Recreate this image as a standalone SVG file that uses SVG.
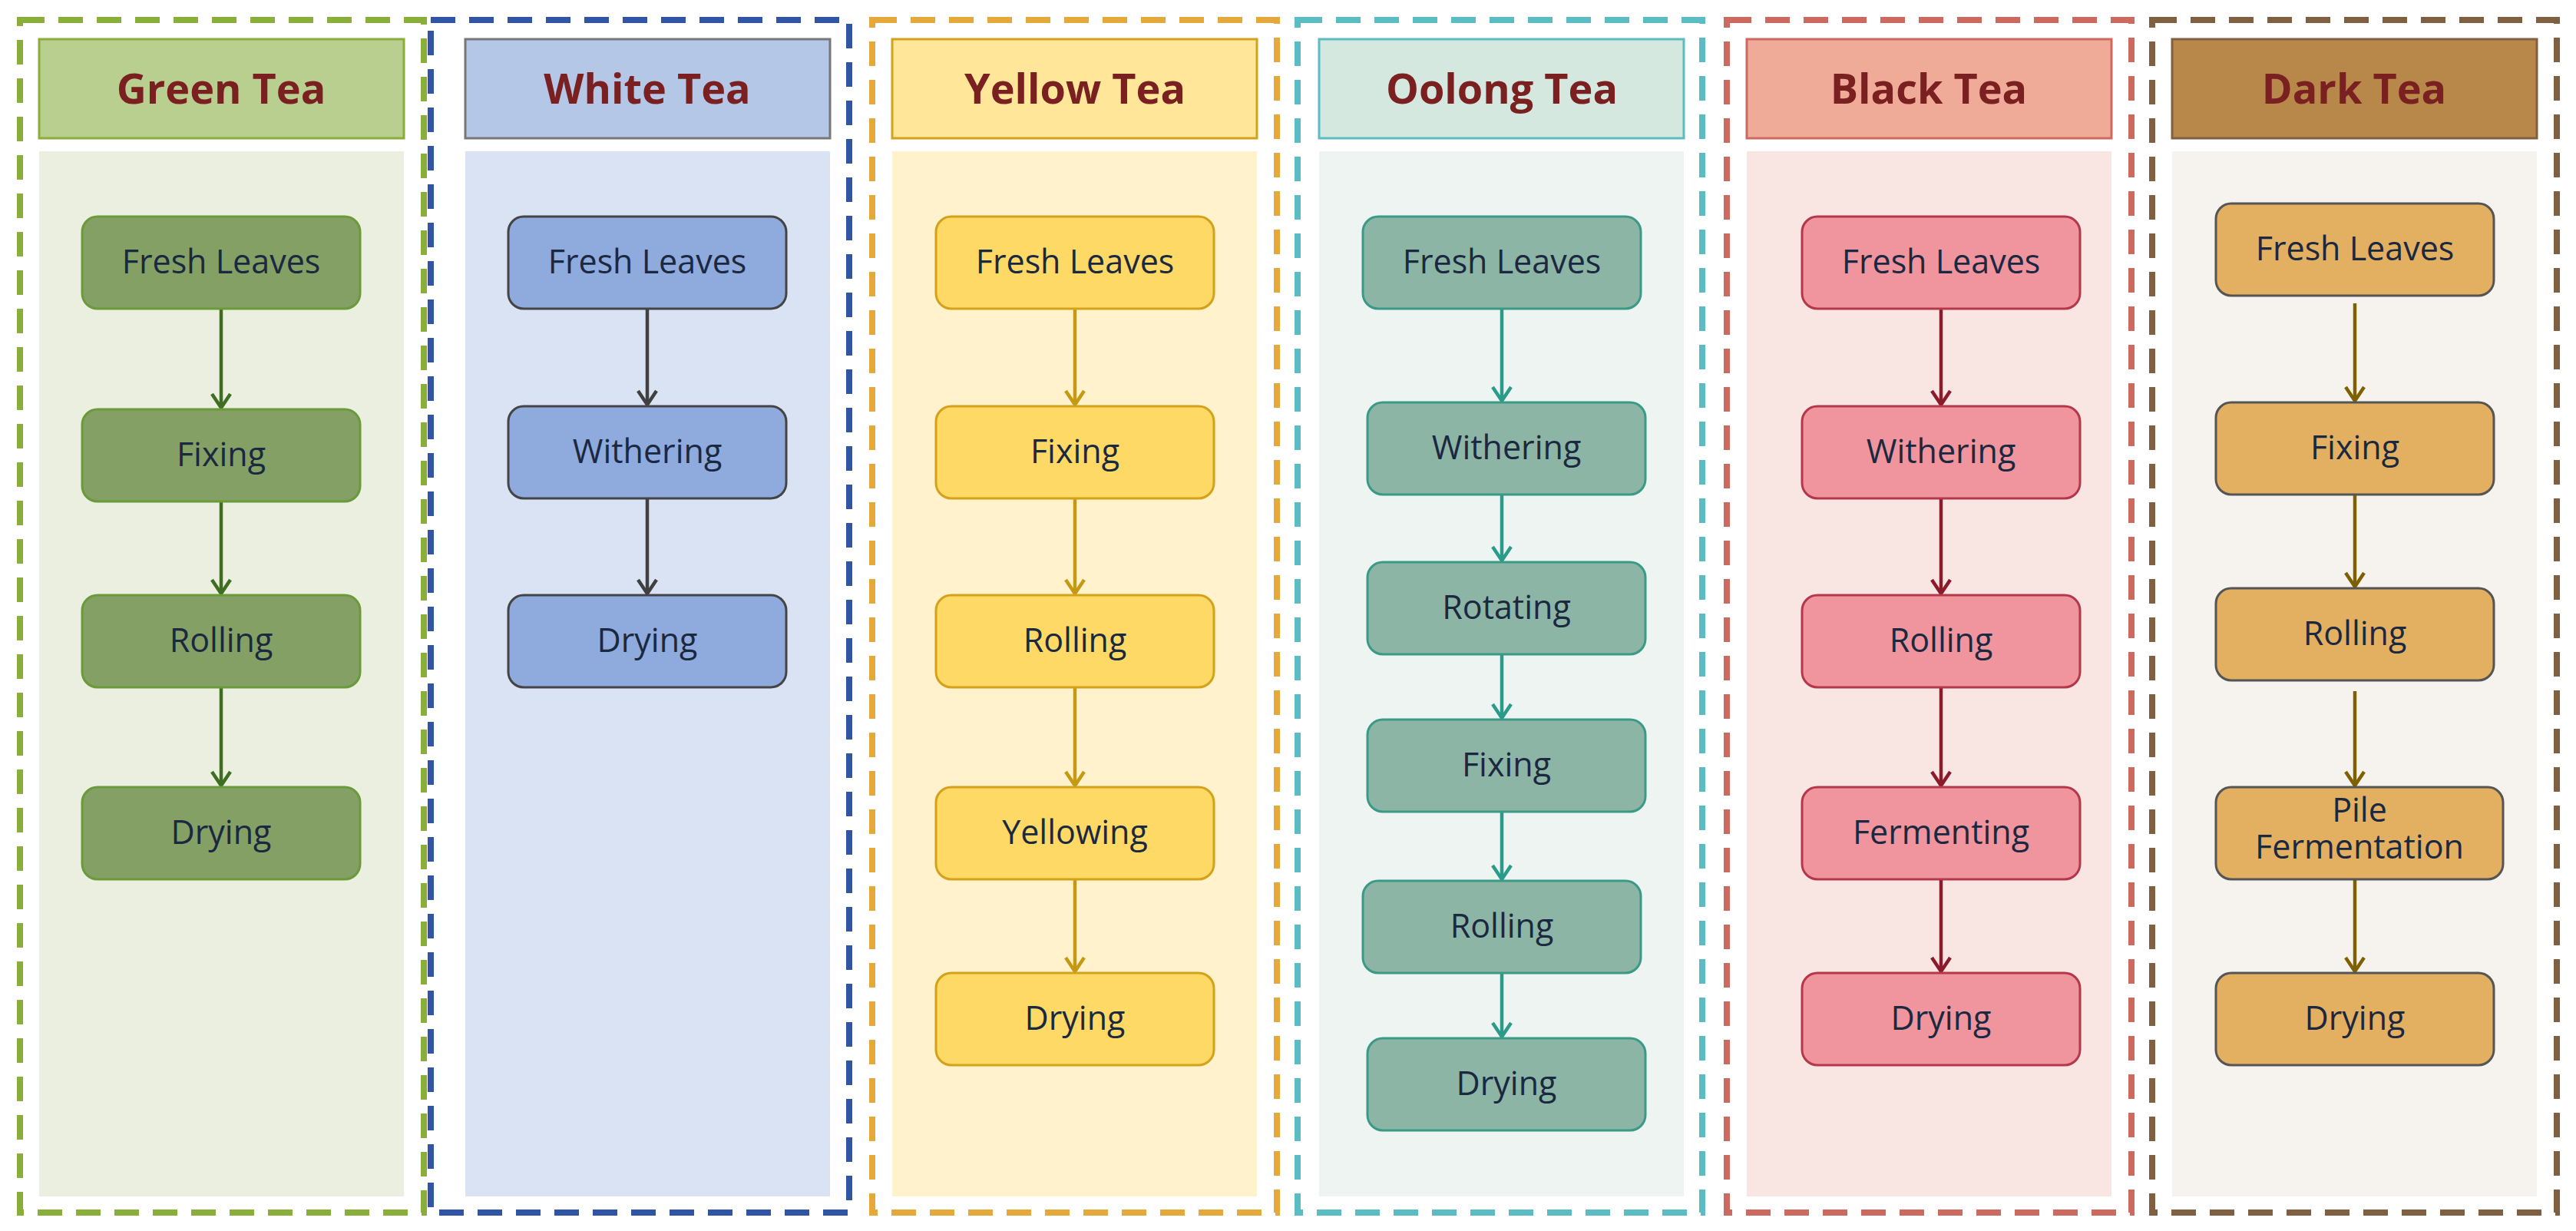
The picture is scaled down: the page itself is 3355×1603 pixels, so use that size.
<svg xmlns="http://www.w3.org/2000/svg" width="3355" height="1603" viewBox="0 0 3355 1603">
<style>
.outer{fill:none;stroke-width:8;stroke-dasharray:32 18}
.title{font-family:"Open Sans","Noto Sans",sans-serif;font-weight:bold;font-size:54px;fill:#7a2020;text-anchor:middle}
.lbl{font-family:"Open Sans","Noto Sans",sans-serif;font-size:43px;fill:#1a2840;text-anchor:middle}
.n{stroke-width:3}
.a{stroke-width:4.5;fill:none}
</style>
<rect width="3355" height="1603" fill="#fff"/>
<g id="green">
<rect class="outer" x="26" y="26" width="526" height="1553" stroke="#8aae3a"/>
<rect x="51" y="51" width="475" height="129" fill="#b9cf8f" stroke="#8aae3a" stroke-width="3"/>
<text class="title" x="288" y="135">Green Tea</text>
<rect x="51" y="197" width="475" height="1361" fill="#ebefdf"/>
</g>
<g id="white">
<rect class="outer" x="561" y="26" width="545" height="1553" stroke="#2f55a4"/>
<rect x="606" y="51" width="475" height="129" fill="#b4c7e7" stroke="#777" stroke-width="3"/>
<text class="title" x="843" y="135">White Tea</text>
<rect x="606" y="197" width="475" height="1361" fill="#dae3f3"/>
</g>
<g id="yellow">
<rect class="outer" x="1136" y="26" width="527" height="1553" stroke="#e5a83a"/>
<rect x="1162" y="51" width="475" height="129" fill="#ffe699" stroke="#d4a21a" stroke-width="3"/>
<text class="title" x="1400" y="135">Yellow Tea</text>
<rect x="1162" y="197" width="475" height="1361" fill="#fff2cc"/>
</g>
<g id="oolong">
<rect class="outer" x="1690" y="26" width="527" height="1553" stroke="#5bbcc4"/>
<rect x="1718" y="51" width="475" height="129" fill="#d4e8e0" stroke="#5bbcc4" stroke-width="3"/>
<text class="title" x="1956" y="135">Oolong Tea</text>
<rect x="1718" y="197" width="475" height="1361" fill="#eef4f1"/>
</g>
<g id="black">
<rect class="outer" x="2249" y="26" width="527" height="1553" stroke="#cc6a60"/>
<rect x="2275" y="51" width="475" height="129" fill="#f0aa98" stroke="#cc6a60" stroke-width="3"/>
<text class="title" x="2512" y="135">Black Tea</text>
<rect x="2275" y="197" width="475" height="1361" fill="#f9e6e2"/>
</g>
<g id="dark">
<rect class="outer" x="2803" y="26" width="527" height="1553" stroke="#806040"/>
<rect x="2829" y="51" width="475" height="129" fill="#b8884a" stroke="#806040" stroke-width="3"/>
<text class="title" x="3066" y="135">Dark Tea</text>
<rect x="2829" y="197" width="475" height="1361" fill="#f6f2ee"/>
</g>
<g id="connectors">
<g stroke="#3f6d22" class="a">
<line x1="288" y1="402" x2="288" y2="531"/><polyline points="276,513 288,531 300,513"/>
<line x1="288" y1="653" x2="288" y2="773"/><polyline points="276,755 288,773 300,755"/>
<line x1="288" y1="895" x2="288" y2="1023"/><polyline points="276,1005 288,1023 300,1005"/>
</g>
<g stroke="#404040" class="a">
<line x1="843" y1="402" x2="843" y2="527"/><polyline points="831,509 843,527 855,509"/>
<line x1="843" y1="649" x2="843" y2="773"/><polyline points="831,755 843,773 855,755"/>
</g>
<g stroke="#c59a12" class="a">
<line x1="1400" y1="402" x2="1400" y2="527"/><polyline points="1388,509 1400,527 1412,509"/>
<line x1="1400" y1="649" x2="1400" y2="773"/><polyline points="1388,755 1400,773 1412,755"/>
<line x1="1400" y1="895" x2="1400" y2="1023"/><polyline points="1388,1005 1400,1023 1412,1005"/>
<line x1="1400" y1="1145" x2="1400" y2="1265"/><polyline points="1388,1247 1400,1265 1412,1247"/>
</g>
<g stroke="#2a9a8a" class="a">
<line x1="1956" y1="402" x2="1956" y2="522"/><polyline points="1944,504 1956,522 1968,504"/>
<line x1="1956" y1="644" x2="1956" y2="730"/><polyline points="1944,712 1956,730 1968,712"/>
<line x1="1956" y1="852" x2="1956" y2="935"/><polyline points="1944,917 1956,935 1968,917"/>
<line x1="1956" y1="1057" x2="1956" y2="1145"/><polyline points="1944,1127 1956,1145 1968,1127"/>
<line x1="1956" y1="1267" x2="1956" y2="1350"/><polyline points="1944,1332 1956,1350 1968,1332"/>
</g>
<g stroke="#8b1a2a" class="a">
<line x1="2528" y1="402" x2="2528" y2="527"/><polyline points="2516,509 2528,527 2540,509"/>
<line x1="2528" y1="649" x2="2528" y2="773"/><polyline points="2516,755 2528,773 2540,755"/>
<line x1="2528" y1="895" x2="2528" y2="1023"/><polyline points="2516,1005 2528,1023 2540,1005"/>
<line x1="2528" y1="1145" x2="2528" y2="1265"/><polyline points="2516,1247 2528,1265 2540,1247"/>
</g>
<g stroke="#7f6000" class="a">
<line x1="3067" y1="395" x2="3067" y2="522"/><polyline points="3055,504 3067,522 3079,504"/>
<line x1="3067" y1="644" x2="3067" y2="764"/><polyline points="3055,746 3067,764 3079,746"/>
<line x1="3067" y1="900" x2="3067" y2="1023"/><polyline points="3055,1005 3067,1023 3079,1005"/>
<line x1="3067" y1="1145" x2="3067" y2="1265"/><polyline points="3055,1247 3067,1265 3079,1247"/>
</g>
</g>
<g id="g1"><rect class="n" x="107" y="282" width="362" height="120" rx="20" fill="#84a065" stroke="#6a9a3a"/><text class="lbl" x="288" y="356">Fresh Leaves</text></g>
<g id="g2"><rect class="n" x="107" y="533" width="362" height="120" rx="20" fill="#84a065" stroke="#6a9a3a"/><text class="lbl" x="288" y="607">Fixing</text></g>
<g id="g3"><rect class="n" x="107" y="775" width="362" height="120" rx="20" fill="#84a065" stroke="#6a9a3a"/><text class="lbl" x="288" y="849">Rolling</text></g>
<g id="g4"><rect class="n" x="107" y="1025" width="362" height="120" rx="20" fill="#84a065" stroke="#6a9a3a"/><text class="lbl" x="288" y="1099">Drying</text></g>
<g id="w1"><rect class="n" x="662" y="282" width="362" height="120" rx="20" fill="#8faadc" stroke="#444"/><text class="lbl" x="843" y="356">Fresh Leaves</text></g>
<g id="w2"><rect class="n" x="662" y="529" width="362" height="120" rx="20" fill="#8faadc" stroke="#444"/><text class="lbl" x="843" y="603">Withering</text></g>
<g id="w3"><rect class="n" x="662" y="775" width="362" height="120" rx="20" fill="#8faadc" stroke="#444"/><text class="lbl" x="843" y="849">Drying</text></g>
<g id="y1"><rect class="n" x="1219" y="282" width="362" height="120" rx="20" fill="#ffd966" stroke="#d4a21a"/><text class="lbl" x="1400" y="356">Fresh Leaves</text></g>
<g id="y2"><rect class="n" x="1219" y="529" width="362" height="120" rx="20" fill="#ffd966" stroke="#d4a21a"/><text class="lbl" x="1400" y="603">Fixing</text></g>
<g id="y3"><rect class="n" x="1219" y="775" width="362" height="120" rx="20" fill="#ffd966" stroke="#d4a21a"/><text class="lbl" x="1400" y="849">Rolling</text></g>
<g id="y4"><rect class="n" x="1219" y="1025" width="362" height="120" rx="20" fill="#ffd966" stroke="#d4a21a"/><text class="lbl" x="1400" y="1099">Yellowing</text></g>
<g id="y5"><rect class="n" x="1219" y="1267" width="362" height="120" rx="20" fill="#ffd966" stroke="#d4a21a"/><text class="lbl" x="1400" y="1341">Drying</text></g>
<g id="o1"><rect class="n" x="1775" y="282" width="362" height="120" rx="20" fill="#8db5a5" stroke="#3a9a86"/><text class="lbl" x="1956" y="356">Fresh Leaves</text></g>
<g id="o2"><rect class="n" x="1781" y="524" width="362" height="120" rx="20" fill="#8db5a5" stroke="#3a9a86"/><text class="lbl" x="1962" y="598">Withering</text></g>
<g id="o3"><rect class="n" x="1781" y="732" width="362" height="120" rx="20" fill="#8db5a5" stroke="#3a9a86"/><text class="lbl" x="1962" y="806">Rotating</text></g>
<g id="o4"><rect class="n" x="1781" y="937" width="362" height="120" rx="20" fill="#8db5a5" stroke="#3a9a86"/><text class="lbl" x="1962" y="1011">Fixing</text></g>
<g id="o5"><rect class="n" x="1775" y="1147" width="362" height="120" rx="20" fill="#8db5a5" stroke="#3a9a86"/><text class="lbl" x="1956" y="1221">Rolling</text></g>
<g id="o6"><rect class="n" x="1781" y="1352" width="362" height="120" rx="20" fill="#8db5a5" stroke="#3a9a86"/><text class="lbl" x="1962" y="1426">Drying</text></g>
<g id="b1"><rect class="n" x="2347" y="282" width="362" height="120" rx="20" fill="#f0949e" stroke="#b5384a"/><text class="lbl" x="2528" y="356">Fresh Leaves</text></g>
<g id="b2"><rect class="n" x="2347" y="529" width="362" height="120" rx="20" fill="#f0949e" stroke="#b5384a"/><text class="lbl" x="2528" y="603">Withering</text></g>
<g id="b3"><rect class="n" x="2347" y="775" width="362" height="120" rx="20" fill="#f0949e" stroke="#b5384a"/><text class="lbl" x="2528" y="849">Rolling</text></g>
<g id="b4"><rect class="n" x="2347" y="1025" width="362" height="120" rx="20" fill="#f0949e" stroke="#b5384a"/><text class="lbl" x="2528" y="1099">Fermenting</text></g>
<g id="b5"><rect class="n" x="2347" y="1267" width="362" height="120" rx="20" fill="#f0949e" stroke="#b5384a"/><text class="lbl" x="2528" y="1341">Drying</text></g>
<g id="d1"><rect class="n" x="2886" y="265" width="362" height="120" rx="20" fill="#e3b062" stroke="#555"/><text class="lbl" x="3067" y="339">Fresh Leaves</text></g>
<g id="d2"><rect class="n" x="2886" y="524" width="362" height="120" rx="20" fill="#e3b062" stroke="#555"/><text class="lbl" x="3067" y="598">Fixing</text></g>
<g id="d3"><rect class="n" x="2886" y="766" width="362" height="120" rx="20" fill="#e3b062" stroke="#555"/><text class="lbl" x="3067" y="840">Rolling</text></g>
<g id="d4"><rect class="n" x="2886" y="1025" width="374" height="120" rx="20" fill="#e3b062" stroke="#555"/><text class="lbl" x="3073" y="1070" font-size="40">Pile</text><text class="lbl" x="3073" y="1118" font-size="40">Fermentation</text></g>
<g id="d5"><rect class="n" x="2886" y="1267" width="362" height="120" rx="20" fill="#e3b062" stroke="#555"/><text class="lbl" x="3067" y="1341">Drying</text></g>
</svg>
